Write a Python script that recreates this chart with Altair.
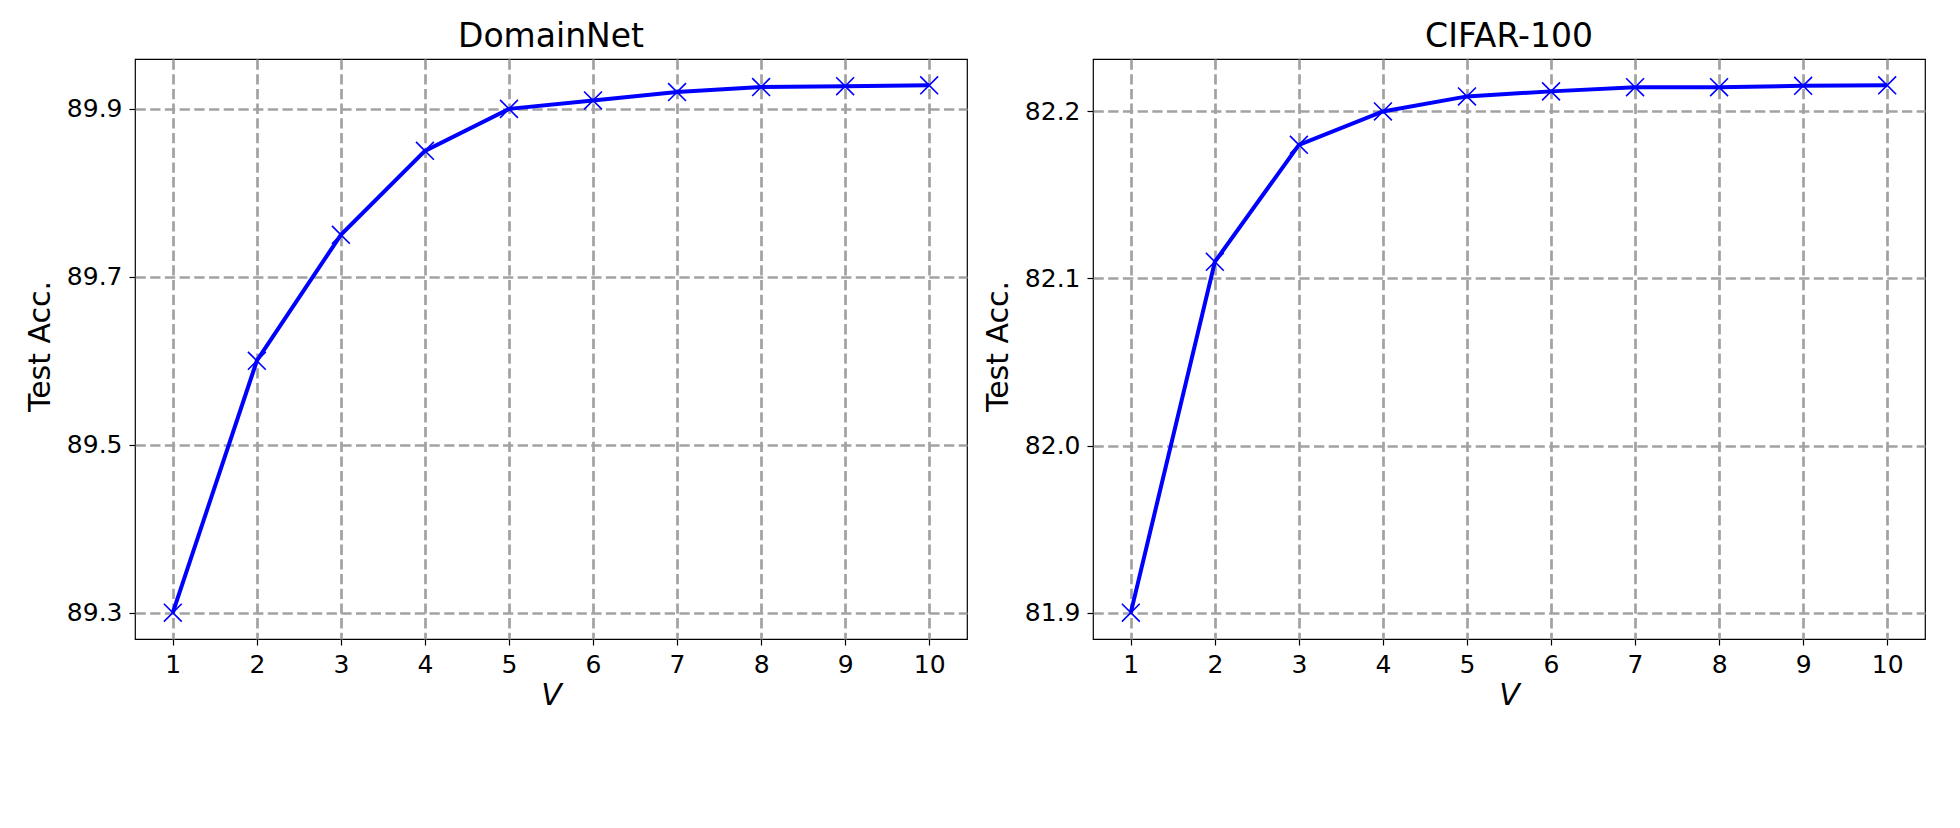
import altair as alt
import pandas as pd

# ---- data ----
V = [1, 2, 3, 4, 5, 6, 7, 8, 9, 10]
domainnet_acc = [89.30, 89.60, 89.75, 89.85, 89.90, 89.91, 89.92, 89.926, 89.927, 89.928]
cifar_acc = [81.90, 82.11, 82.18, 82.20, 82.209, 82.212, 82.2145, 82.2145, 82.2153, 82.2156]
domainnet_ticks = [89.3, 89.5, 89.7, 89.9]
cifar_ticks = [81.9, 82.0, 82.1, 82.2]
titles = ["DomainNet", "CIFAR-100"]

FONT = "DejaVu Sans"
X_PATH = "M-1,-1L1,1M1,-1L-1,1"


def panel(values, ticks, title):
    df = pd.DataFrame({"V": V, "acc": values})
    lo, hi = min(values), max(values)
    rng = hi - lo
    ydom = [lo - 0.05 * rng, hi + 0.05 * rng]
    x = alt.X(
        "V:Q",
        scale=alt.Scale(domain=[0.55, 10.45], nice=False, zero=False),
        axis=alt.Axis(
            values=V, format="d", title="V", titleFontStyle="italic",
            titleY=41,
        ),
    )
    y = alt.Y(
        "acc:Q",
        scale=alt.Scale(domain=ydom, nice=False, zero=False),
        axis=alt.Axis(
            values=ticks, format=".1f", title="Test Acc.",
            titleX=-80, titleY=287,
        ),
    )
    base = alt.Chart(df).encode(x=x, y=y)
    line = base.mark_line(color="#0000ff", strokeWidth=4)
    pts = base.mark_point(
        shape=X_PATH, size=320, filled=False, color="#0000ff",
        strokeWidth=1.6, opacity=1,
    )
    return (line + pts).properties(
        width=832, height=580,
        title=alt.TitleParams(
            title, fontSize=33, font=FONT, fontWeight="normal",
            offset=-28, baseline="bottom", color="black",
        ),
    )


left = panel(domainnet_acc, domainnet_ticks, titles[0])
right = panel(cifar_acc, cifar_ticks, titles[1])

chart = (
    alt.hconcat(left, right, spacing=126, bounds="flush")
    .properties(
        padding={"left": 16, "top": 12, "right": 20, "bottom": 20},
        background="white",
    )
    .configure_view(stroke="black", strokeWidth=1.2)
    .configure_axis(
        domain=False,
        grid=True,
        gridColor="#a2a2a2",
        gridDash=[10.3, 4.4],
        gridWidth=2.7,
        gridOpacity=1,
        ticks=True,
        tickColor="black",
        tickSize=6,
        tickWidth=1.2,
        labelPadding=7,
        labelFont=FONT,
        labelFontSize=25,
        labelColor="black",
        titleFont=FONT,
        titleFontSize=30,
        titleFontWeight="normal",
        titleColor="black",
        labelFlush=False,
        labelOverlap=False,
    )
)

chart.save("out.html", embed_options={"renderer": "svg", "actions": False})
